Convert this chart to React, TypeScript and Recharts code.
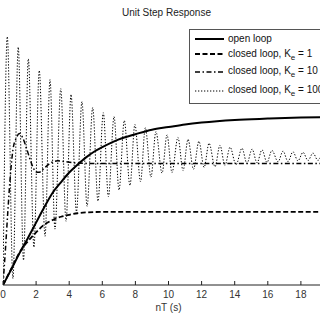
import React from "react";
import { LineChart, Line, XAxis, YAxis, Legend } from "recharts";

const FONT = '"Liberation Sans", Arial, Helvetica, sans-serif';

// axis ticks (the 20 tick falls outside the cropped picture)
const xTicks = [0, 2, 4, 6, 8, 10, 12, 14, 16, 18];
const yTicks = [0, 0.2, 0.4, 0.6, 0.8, 1, 1.2, 1.4, 1.6, 1.8, 2];

// open loop
const openLoopT = [0, 0.5, 1, 1.5, 2, 2.5, 3, 3.5, 4, 4.5, 5, 5.5, 6, 7, 8, 9, 10, 11, 12, 14, 16, 18, 20];
const openLoopY = [0, 0.12, 0.245, 0.36, 0.48, 0.6, 0.71, 0.79, 0.865, 0.925, 0.98, 1.025, 1.06, 1.12, 1.16, 1.195, 1.215, 1.235, 1.25, 1.27, 1.28, 1.288, 1.293];

// closed loop, Ke = 1
const ke1T = [0, 0.5, 1, 1.5, 2, 2.5, 3, 3.5, 4, 4.5, 5, 6, 20];
const ke1Y = [0, 0.125, 0.25, 0.335, 0.405, 0.465, 0.5, 0.525, 0.54, 0.552, 0.558, 0.562, 0.562];

// closed loop, Ke = 10
const ke10T = [0, 0.15, 0.3, 0.45, 0.6, 0.8, 1.0, 1.2, 1.4, 1.6, 1.8, 2.0, 2.2, 2.5, 2.9, 3.3, 3.8, 4.5, 5.5, 20];
const ke10Y = [0, 0.28, 0.58, 0.85, 1.04, 1.13, 1.165, 1.13, 1.06, 0.98, 0.91, 0.87, 0.868, 0.9, 0.94, 0.955, 0.948, 0.938, 0.935, 0.935];

// closed loop, Ke = 100 (peaks / troughs)
const ke100T = [
  0, 0.26, 0.6, 0.92, 1.24, 1.53, 1.87, 2.19, 2.54, 2.84, 3.14, 3.49, 3.81, 4.11, 4.44, 4.77, 5.08, 5.42, 5.74,
  6.06, 6.37, 6.71, 7.01, 7.33, 7.67, 7.97, 8.31, 8.6, 8.94, 9.24, 9.61, 9.91, 10.21, 10.57, 10.88, 11.18, 11.51,
  11.84, 12.15, 12.45, 12.81, 13.11, 13.41, 13.72, 14.08, 14.44, 14.74, 15.05, 15.35, 15.65, 15.95, 16.25, 16.62,
  16.92, 17.22, 17.52, 17.82, 18.13, 18.43, 18.73, 19.03, 19.34, 19.64, 20,
];
const ke100Y = [
  0, 1.91, 0.05, 1.83, 0.19, 1.74, 0.29, 1.65, 0.375, 1.58, 0.43, 1.51, 0.49, 1.465, 0.565, 1.41, 0.605, 1.365, 0.645,
  1.325, 0.68, 1.295, 0.73, 1.265, 0.765, 1.235, 0.795, 1.21, 0.83, 1.18, 0.86, 1.155, 0.865, 1.135, 0.88, 1.12, 0.89,
  1.105, 0.905, 1.09, 0.91, 1.075, 0.92, 1.06, 0.925, 1.052, 0.935, 1.045, 0.94, 1.04, 0.943, 1.035, 0.948,
  1.03, 0.95, 1.025, 0.955, 1.02, 0.957, 1.015, 0.958, 1.01, 0.96, 1.005,
];

const toPoints = (t: number[], y: number[]) => t.map((x, i) => ({ t: x, v: y[i] }));

const SERIES = [
  { key: "open", label: "open loop", ke: "", width: 2, dash: undefined as string | undefined, t: openLoopT, y: openLoopY },
  { key: "ke1", label: "closed loop, K", ke: " = 1", width: 1.8, dash: "5 2.5", t: ke1T, y: ke1Y },
  { key: "ke10", label: "closed loop, K", ke: " = 10", width: 1.5, dash: "5 2.5 1.5 2.5", t: ke10T, y: ke10Y },
  { key: "ke100", label: "closed loop, K", ke: " = 100", width: 1, dash: "1.3 1.7", t: ke100T, y: ke100Y },
];

// vertical centre of each legend row, relative to the box
const LEGEND_ROWS = [9, 24, 41.5, 60.5];

function LegendBox() {
  return (
    <div
      style={{
        position: "relative", width: 160, height: 75, boxSizing: "border-box",
        border: "1px solid #555", background: "#fff", fontFamily: FONT, fontSize: 10, color: "#111",
      }}
    >
      {SERIES.map((s, i) => (
        <div
          key={s.key}
          style={{ position: "absolute", left: 0, top: LEGEND_ROWS[i] - 7, height: 14, display: "flex", alignItems: "center", whiteSpace: "nowrap" }}
        >
          <svg width={37} height={14} style={{ display: "block" }}>
            <line x1={5} x2={34} y1={7} y2={7} stroke="#000" strokeWidth={s.width} strokeDasharray={s.dash} />
          </svg>
          <span style={{ marginLeft: 1, lineHeight: "14px" }}>
            {s.label}
            {s.ke && <span style={{ fontSize: 8, position: "relative", top: 3 }}>e</span>}
            {s.ke}
          </span>
        </div>
      ))}
    </div>
  );
}

export default function App() {
  return (
    <div style={{ position: "absolute", left: 0, top: 0, width: 320, height: 320, overflow: "hidden", background: "#fff" }}>
      <div
        style={{
          position: "absolute", left: 0, top: 7, width: 333, textAlign: "center",
          fontFamily: FONT, fontSize: 10, lineHeight: "12px", color: "#222",
        }}
      >
        Unit Step Response
      </div>
      <LineChart width={340} height={320} margin={{ top: 25, right: 6, left: 3, bottom: 0 }}>
        <XAxis
          dataKey="t"
          type="number"
          domain={[0, 20]}
          ticks={xTicks}
          allowDataOverflow
          height={35}
          axisLine={{ stroke: "#222" }}
          tickLine={{ stroke: "#222" }}
          tickSize={-4}
          tickMargin={10}
          tick={{ fontSize: 10, fill: "#333", fontFamily: FONT }}
          label={{ value: "nT (s)", position: "insideBottom", offset: 9, fontSize: 10, fill: "#333", fontFamily: FONT }}
        />
        <YAxis
          type="number"
          domain={[0, 2]}
          ticks={yTicks}
          allowDataOverflow
          width={0}
          axisLine={{ stroke: "#777" }}
          tickLine={{ stroke: "#777" }}
          tickSize={-4}
          tick={false}
        />
        <Legend
          layout="vertical"
          align="center"
          verticalAlign="middle"
          wrapperStyle={{ left: 189, top: 29, width: 160, height: 75 }}
          content={() => <LegendBox />}
        />
        {SERIES.map((s) => (
          <Line
            key={s.key}
            data={toPoints(s.t, s.y)}
            dataKey="v"
            name={s.key}
            type="monotone"
            stroke="#000"
            strokeWidth={s.width}
            strokeDasharray={s.dash}
            dot={false}
            activeDot={false}
            isAnimationActive={false}
          />
        ))}
      </LineChart>
    </div>
  );
}
